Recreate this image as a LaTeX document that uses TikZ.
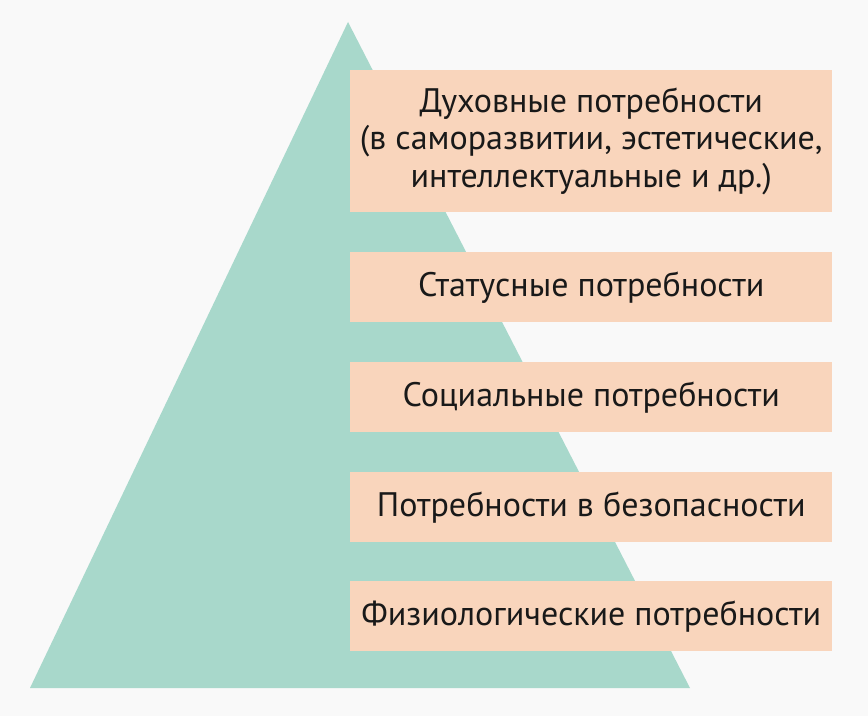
\documentclass[tikz,border=0pt]{standalone}
\usepackage{fontspec}
\setmainfont{PT Sans}
\definecolor{tri}{HTML}{A8D8CB}
\definecolor{box}{HTML}{F9D5BC}
\definecolor{bg}{HTML}{F9F9F9}
\begin{document}
\begin{tikzpicture}[x=0.75pt,y=-0.75pt,
  pbox/.style={fill=box,draw=none,minimum width=361.5pt,inner sep=0pt,align=center,font=\fontsize{25.5}{28}\selectfont,text=black!90,anchor=north west}]
\fill[bg] (0,0) rectangle (868,716);
\useasboundingbox (0,0) rectangle (868,716);
\fill[tri] (348,22) -- (690,688) -- (30,688) -- cycle;
\node[pbox,minimum height=106.5pt] (b1) at (350,70) {Духовные потребности\\(в саморазвитии, эстетические,\\интеллектуальные и др.)};
\node[pbox,minimum height=52.5pt] (b2) at (350,252) {Статусные потребности};
\node[pbox,minimum height=52.5pt] (b3) at (350,362) {Социальные потребности};
\node[pbox,minimum height=52.5pt] (b4) at (350,472) {Потребности в безопасности};
\node[pbox,minimum height=52.5pt] (b5) at (350,581) {Физиологические потребности};
\end{tikzpicture}
\end{document}
